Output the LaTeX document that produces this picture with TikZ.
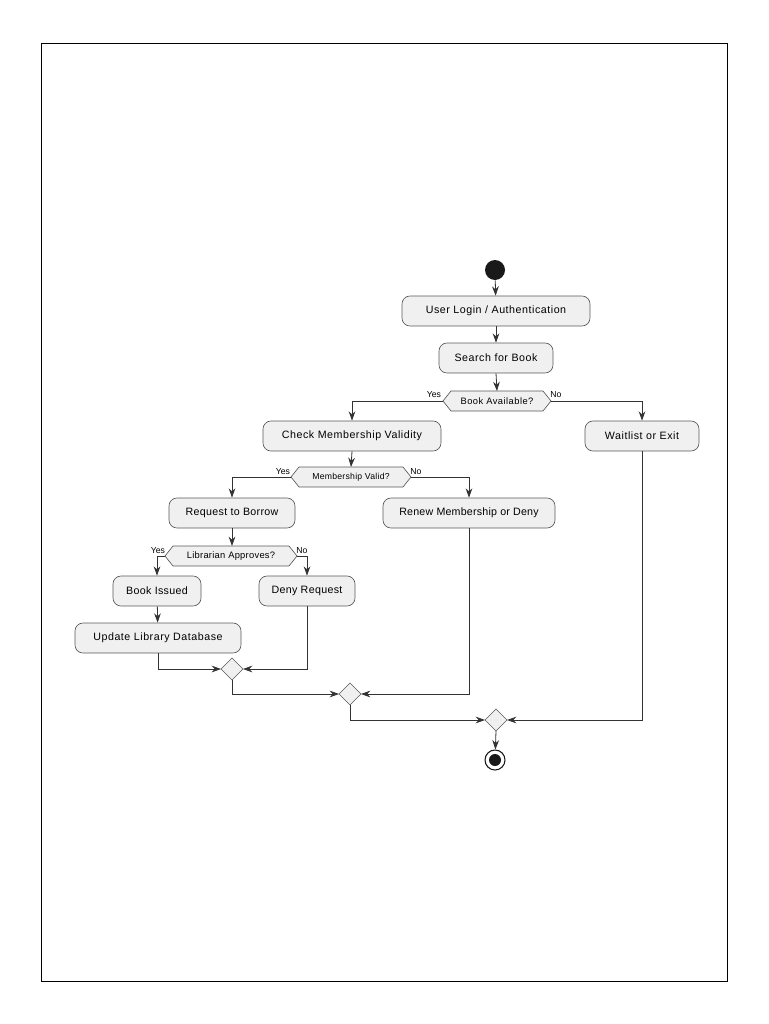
\documentclass[tikz,border=0pt]{standalone}
\usepackage{fontspec}
\setmainfont{Liberation Sans}
\usetikzlibrary{arrows.meta,calc}
\begin{document}
\begin{tikzpicture}[x=0.75pt,y=-0.75pt,
  act/.style={draw=black!65,fill=black!6,rounded corners=6pt,minimum height=22.5pt,inner sep=0pt,font=\fontsize{8}{9}\selectfont,line width=0.5pt},
  dec/.style={inner sep=0pt,minimum height=15pt,font=\fontsize{7}{8}\selectfont},
  hex/.style={draw=black!65,fill=black!6,line width=0.5pt},
  mrg/.style={draw=black!65,fill=black!6,line width=0.5pt},
  lbl/.style={font=\fontsize{6.5}{7}\selectfont,inner sep=0pt},
  arr/.style={-{Stealth[length=7pt,width=5pt]},line width=0.6pt,black!80},
  ln/.style={line width=0.6pt,black!80}]
\useasboundingbox (0,0) rectangle (768,1024);
\draw[line width=0.6pt] (41,43) rectangle (727,981);
% start
\node[circle,fill=black!90,minimum size=15pt,inner sep=0pt] (start) at (495,270) {};
\node[act,minimum width=141pt] (login) at (496,311) {\addfontfeature{LetterSpace=5}User Login / Authentication};
\node[act,minimum width=85.5pt] (search) at (496,358) {\addfontfeature{LetterSpace=5}Search for Book};
% decision 1
\newcommand{\hexdraw}[3]{\draw[hex] (#1-#2,#3)--(#1-#2+8,#3-10)--(#1+#2-8,#3-10)--(#1+#2,#3)--(#1+#2-8,#3+10)--(#1-#2+8,#3+10)--cycle;}
\hexdraw{497}{54}{401}
\node[dec,minimum width=81pt] (bav) at (497,401) {\addfontfeature{LetterSpace=5}Book Available?};
\coordinate (bavL) at (443,401); \coordinate (bavR) at (551,401);
\node[lbl] at (434,395) {Yes}; \node[lbl] at (556,395) {No};
\node[act,minimum width=133.5pt] (check) at (352,436) {\addfontfeature{LetterSpace=5}Check Membership Validity};
\node[act,minimum width=85.5pt] (wait) at (642,436) {\addfontfeature{LetterSpace=5}Waitlist or Exit};
% decision 2
\hexdraw{351}{60}{477}
\node[dec,minimum width=90pt,font=\fontsize{6.5}{7}\selectfont] (mv) at (351,477) {\addfontfeature{LetterSpace=3}Membership Valid?};
\coordinate (mvL) at (291,477); \coordinate (mvR) at (411,477);
\node[lbl] at (283,472) {Yes}; \node[lbl] at (416,472) {No};
\node[act,minimum width=94.5pt] (req) at (232,513) {\addfontfeature{LetterSpace=3}Request to Borrow};
\node[act,minimum width=129pt] (renew) at (469,513) {\addfontfeature{LetterSpace=2}Renew Membership or Deny};
% decision 3
\hexdraw{231}{66}{556}
\node[dec,minimum width=98pt] (la) at (231,556) {\addfontfeature{LetterSpace=3}Librarian Approves?};
\coordinate (laL) at (165,556); \coordinate (laR) at (297,556);
\node[lbl] at (158,551) {Yes}; \node[lbl] at (302,551) {No};
\node[act,minimum width=66pt] (issued) at (157,591) {\addfontfeature{LetterSpace=3}Book Issued};
\node[act,minimum width=72pt] (deny) at (307,591) {\addfontfeature{LetterSpace=3}Deny Request};
\node[act,minimum width=124.5pt] (upd) at (158,638) {\addfontfeature{LetterSpace=5}Update Library Database};
% merges
\newcommand{\mrgdraw}[3]{\draw[mrg] (#2-11,#3)--(#2,#3-11)--(#2+11,#3)--(#2,#3+11)--cycle;
  \coordinate (#1) at (#2,#3); \coordinate (#1L) at (#2-11,#3); \coordinate (#1R) at (#2+11,#3);
  \coordinate (#1T) at (#2,#3-11); \coordinate (#1B) at (#2,#3+11);}
\mrgdraw{m1}{232}{669}
\mrgdraw{m2}{350}{694}
\mrgdraw{m3}{496}{720}
\node[circle,draw=black!90,line width=0.8pt,minimum size=15pt,inner sep=0pt] (end) at (495,760) {};
\node[circle,fill=black!90,minimum size=9pt,inner sep=0pt] at (end) {};
% connectors
\draw[arr] (start) -- (login);
\draw[arr] (login) -- (search);
\draw[arr] (search.south) -- (497,391);
\draw[arr] (bavL) -| (check.north);
\draw[arr] (bavR) -| (wait.north);
\draw[arr] (check.south) -- (351,467);
\draw[arr] (mvL) -| (req.north);
\draw[arr] (mvR) -| (renew.north);
\draw[arr] (req.south) -- (232,546);
\draw[arr] (laL) -| (issued.north);
\draw[arr] (laR) -| (deny.north);
\draw[arr] (issued) -- (upd);
\draw[arr] (upd.south) |- (m1L);
\draw[arr] (deny.south) |- (m1R);
\draw[arr] (m1B) |- (m2L);
\draw[arr] (renew.south) |- (m2R);
\draw[arr] (m2B) |- (m3L);
\draw[arr] (wait.south) |- (m3R);
\draw[arr] (m3B) -- (end);
\end{tikzpicture}
\end{document}
